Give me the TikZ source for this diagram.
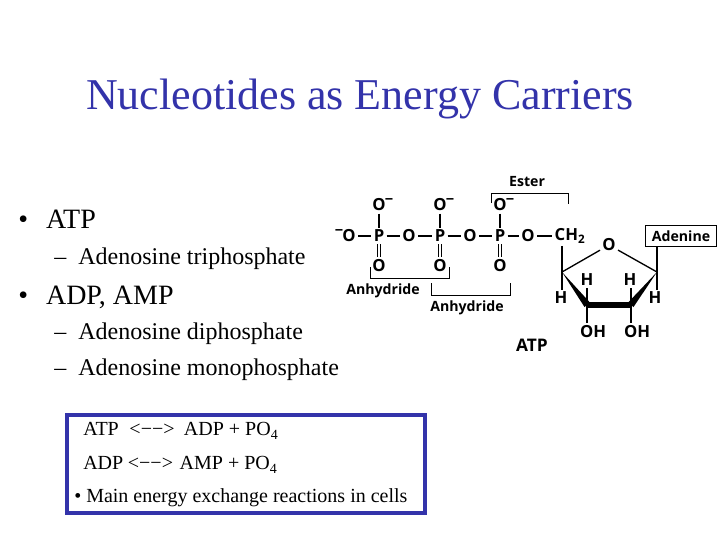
\documentclass[tikz,border=0pt]{standalone}
\usepackage{fontspec}
\setmainfont{Liberation Serif}
\newfontfamily\chemfont{Open Sans}
\usetikzlibrary{positioning, calc}
\definecolor{slideblue}{RGB}{51,51,170}
\newcommand{\lowfour}{\raisebox{-3pt}{\fontsize{10.5}{10.5}\selectfont 4}}
\tikzset{
	slidetext/.style={anchor=base west, inner sep=0pt, font=\fontsize{#1}{#1}\selectfont},
	atom/.style={inner sep=1.6pt, font=\chemfont\bfseries\fontsize{12.5}{12.5}\selectfont},
	tag/.style={inner sep=0pt, font=\chemfont\bfseries\fontsize{10.6}{10.6}\selectfont},
	charge/.style={inner sep=0pt, font=\chemfont\bfseries\fontsize{11}{11}\selectfont},
	bond/.style={line width=1pt},
	dbond/.style={line width=0.7pt, double, double distance=2pt},
	bracket/.style={line width=0.7pt}
}
\begin{document}
\begin{tikzpicture}[x=0.75pt,y=-0.75pt]
	\useasboundingbox (0,0) rectangle (720,540);
	\node[text=slideblue, inner sep=0pt, font=\fontsize{33}{33}\selectfont] (title) at (360,99) {Nucleotides as Energy Carriers};

	% Bullet text
	\node[slidetext=21] (atp) at (18,228) {•\hspace{13.5pt}ATP};
	\node[slidetext=18] (atpfull) at (54,264) {–\hspace{9pt}Adenosine triphosphate};
	\node[slidetext=21] (adp) at (18,304) {•\hspace{13.5pt}ADP, AMP};
	\node[slidetext=18] (adpfull) at (54,339) {–\hspace{9pt}Adenosine diphosphate};
	\node[slidetext=18] (ampfull) at (54,375) {–\hspace{9pt}Adenosine monophosphate};

	% Reaction box
	\node[draw=slideblue, line width=2.8pt, minimum width=268pt, minimum height=74pt, inner sep=0pt] (box) at (246,464) {};
	\node[slidetext=15] (react1) at (83,435) {ATP\hspace{8pt}<−−>\hspace{7pt}ADP + PO\lowfour};
	\node[slidetext=15] (react2) at (83,469) {ADP\hspace{3.5pt}<−−>\hspace{5pt}AMP + PO\lowfour};
	\node[slidetext=15] (react3) at (74,502) {• Main energy exchange reactions in cells};

	% Phosphate chain
	\node[atom] (O0) at (349,236) {O};
	\node[atom] (P1) at (379,236) {P};
	\node[atom] (O1) at (409,236) {O};
	\node[atom] (P2) at (440,236) {P};
	\node[atom] (O2) at (470,236) {O};
	\node[atom] (P3) at (500,236) {P};
	\node[atom] (O3) at (528,236) {O};
	\node[atom] (CH2) at (570,236) {CH\textsubscript{2}};
	\node[atom] (Ot1) at (379,205) {O};
	\node[atom] (Ot2) at (440,205) {O};
	\node[atom] (Ot3) at (500,205) {O};
	\node[atom] (Ob1) at (379,266) {O};
	\node[atom] (Ob2) at (440,266) {O};
	\node[atom] (Ob3) at (500,266) {O};
	\node[charge] (m0) at (339,233) {−};
	\node[charge] (m1) at (389,202) {−};
	\node[charge] (m2) at (450,202) {−};
	\node[charge] (m3) at (510,202) {−};

	\draw[bond] (O0) -- (P1);
	\draw[bond] (P1) -- (O1);
	\draw[bond] (O1) -- (P2);
	\draw[bond] (P2) -- (O2);
	\draw[bond] (O2) -- (P3);
	\draw[bond] (P3) -- (O3);
	\draw[bond] (O3) -- (CH2);
	\draw[bond] (Ot1) -- (P1);
	\draw[bond] (Ot2) -- (P2);
	\draw[bond] (Ot3) -- (P3);
	\draw[dbond] (P1) -- (Ob1);
	\draw[dbond] (P2) -- (Ob2);
	\draw[dbond] (P3) -- (Ob3);

	% Sugar ring
	\node[atom] (Or) at (609,245) {O};
	\coordinate (vl) at (562,272);
	\coordinate (vr) at (657,272);
	\coordinate (bl) at (587,305);
	\coordinate (br) at (631,305);
	\node[atom] (Hl) at (561,298) {H};
	\node[atom] (Hil) at (587,280) {H};
	\node[atom] (Hir) at (630,280) {H};
	\node[atom] (Hr) at (655,298) {H};
	\node[atom] (OHl) at (593,332) {OH};
	\node[atom] (OHr) at (637,332) {OH};
	\node[tag, draw, line width=0.7pt, minimum width=53pt, minimum height=16pt] (adenine) at (681,236) {Adenine};

	\draw[bond] (Or) -- (vl);
	\draw[bond] (Or) -- (vr);
	\draw[bond] (vl |- CH2.south) -- (vl) -- (vl |- Hl.north);
	\draw[bond] (vr |- adenine.south) -- (vr) -- (vr |- Hr.north);
	\draw[bond] (bl) -- (bl |- Hil.south);
	\draw[bond] (br) -- (br |- Hir.south);
	\draw[bond] (bl) -- (bl |- OHl.north);
	\draw[bond] (br) -- (br |- OHr.north);
	\fill (vl) -- ($(bl)+(3,-2.4)$) -- ($(bl)+(-2.5,2)$) -- cycle;
	\fill (vr) -- ($(br)+(-3,-2.4)$) -- ($(br)+(2.5,2)$) -- cycle;
	\draw[line width=4pt] ($(bl)+(-1,0)$) -- ($(br)+(1,0)$);

	% Brackets
	\coordinate (e1) at (491,203);
	\coordinate (e2) at (568,204);
	\coordinate (a1) at (370,267);
	\coordinate (a2) at (449,267);
	\coordinate (c1) at (431,283);
	\coordinate (c2) at (510,283);
	\draw[bracket] (e1) -- (491,193) -- (568,193) -- (e2);
	\draw[bracket] (a1) -- (370,278) -- (449,278) -- (a2);
	\draw[bracket] (c1) -- (431,295) -- (510,295) -- (c2);
	\node[tag] (ester) at (527,182) {Ester};
	\node[tag] (anhy1) at (383,291) {Anhydride};
	\node[tag] (anhy2) at (467,308) {Anhydride};
	\node[inner sep=0pt, font=\chemfont\bfseries\fontsize{13}{13}\selectfont] (atpmol) at (532,345) {ATP};
\end{tikzpicture}
\end{document}
